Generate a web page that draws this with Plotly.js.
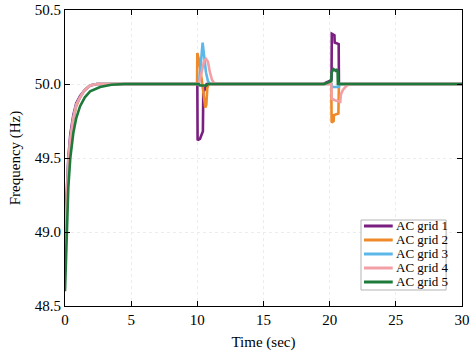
<!DOCTYPE html>
<html>
<head>
<meta charset="utf-8">
<script src="https://cdn.plot.ly/plotly-3.0.1.min.js"></script>
<style>html,body{margin:0;padding:0;background:#fff;}#chart{width:474px;height:356px;}</style>
</head>
<body>
<div id="chart"></div>
<script>
// AC grid 1 (purple)
const t1 = [0,0.1,0.25,0.4,0.63,0.85,1.14,1.5,1.9,2.4,10.0,10.02,10.2,10.42,10.45,10.55,10.7,11.0,19.5,20.0,20.14,20.16,20.36,20.38,20.68,20.7,21.0,30];
const f1 = [48.85,49.2,49.5,49.66,49.79,49.87,49.92,49.96,49.99,50.0,50.0,49.62,49.63,49.68,49.96,49.96,50.0,50.0,50.0,50.02,50.03,50.34,50.33,50.28,50.27,50.0,50.0,50.0];
// AC grid 2 (orange)
const t2 = [0,0.1,0.25,0.4,0.63,0.85,1.14,1.5,1.9,2.4,9.98,10.0,10.15,10.3,10.45,10.6,10.68,10.75,10.85,20.12,20.15,20.3,20.32,20.66,20.7,21.0,30];
const f2 = [48.8,49.12,49.45,49.61,49.76,49.85,49.91,49.96,49.99,50.0,50.0,50.21,50.15,50.05,49.93,49.84,49.86,49.97,50.0,50.0,49.74,49.75,49.79,49.8,50.0,50.0,50.0];
// AC grid 3 (blue)
const t3 = [0,0.1,0.25,0.4,0.63,0.85,1.14,1.5,1.9,2.4,10.12,10.25,10.4,10.5,10.65,10.8,10.95,20.14,20.16,20.7,20.74,30];
const f3 = [48.85,49.15,49.47,49.62,49.77,49.86,49.91,49.96,49.99,50.0,50.0,50.12,50.28,50.2,50.08,50.02,50.0,50.0,49.98,49.98,50.0,50.0];
// AC grid 4 (pink)
const t4 = [0,0.1,0.15,0.25,0.4,0.63,0.85,1.14,1.5,1.9,2.4,10.1,10.3,10.5,10.65,10.8,10.95,11.1,11.3,20.12,20.16,20.4,20.8,20.85,21.0,21.3,21.6,30];
const f4 = [48.9,49.15,49.26,49.47,49.63,49.77,49.86,49.91,49.96,49.99,50.0,50.0,50.07,50.15,50.17,50.15,50.08,50.03,50.0,50.0,49.9,49.89,49.88,49.93,49.96,49.99,50.0,50.0];
// AC grid 5 (green)
const t5 = [0,0.1,0.25,0.4,0.63,0.85,1.14,1.5,1.9,2.65,3.5,4.5,10.1,10.2,10.7,10.8,19.6,20.12,20.15,20.3,20.45,20.55,20.6,20.62,21.0,30];
const f5 = [48.6,48.95,49.3,49.5,49.67,49.77,49.85,49.91,49.95,49.98,49.995,50.0,50.0,49.99,49.99,50.0,50.0,50.02,50.08,50.1,50.09,50.1,50.08,50.0,50.0,50.0];
const names = ["AC grid 1","AC grid 2","AC grid 3","AC grid 4","AC grid 5"];
const colors = ["#7a1e80","#ee8a2a","#5cb8e8","#f2a0a6","#1e7a3a"];
const xs = [t1,t2,t3,t4,t5], ys = [f1,f2,f3,f4,f5];
const xTicks = [0,5,10,15,20,25,30];
const yTicks = [48.5,49.0,49.5,50.0,50.5];
const yTickText = ["48.5","49.0","49.5","50.0","50.5"];

const traces = names.map((n,i)=>({
  x: xs[i], y: ys[i], name: n, type: "scatter", mode: "lines", showlegend: false,
  line: {color: colors[i], width: 2.6}
}));

const fam = "Liberation Serif, Times New Roman, serif";
const tickFont = {family: fam, size: 15, color: "#000"};
const titleFont = {family: fam, size: 15, color: "#000"};

// legend drawn in plot-area (paper) coordinates
const legRowY = [0.2703, 0.2230, 0.1757, 0.1284, 0.0811];
const shapes = [{type: "rect", xref: "paper", yref: "paper", x0: 0.7456, x1: 0.960, y0: 0.0541, y1: 0.2905,
  line: {color: "#b4b4b4", width: 1}, fillcolor: "#fff", layer: "above"}];
const annotations = [];
names.forEach((n,i)=>{
  shapes.push({type: "line", xref: "paper", yref: "paper", x0: 0.7532, x1: 0.8255, y0: legRowY[i], y1: legRowY[i],
    line: {color: colors[i], width: 3}, layer: "above"});
  annotations.push({xref: "paper", yref: "paper", x: 0.8275, y: legRowY[i], xanchor: "left", yanchor: "middle",
    text: n, showarrow: false, font: {family: fam, size: 13, color: "#000"}});
});

const layout = {
  width: 474, height: 356,
  margin: {l: 65, r: 12, t: 10, b: 50},
  paper_bgcolor: "#fff", plot_bgcolor: "#fff",
  font: tickFont,
  showlegend: false,
  shapes: shapes, annotations: annotations,
  xaxis: {range: [0,30], tickvals: xTicks, ticks: "inside", ticklen: 5, tickcolor: "#000", tickfont: tickFont,
    showline: true, linecolor: "#000", linewidth: 1, mirror: "ticks",
    showgrid: true, gridcolor: "#ececec", griddash: "dot", zeroline: false,
    title: {text: "Time (sec)", font: titleFont, standoff: 9}},
  yaxis: {range: [48.5,50.5], tickvals: yTicks, ticktext: yTickText, ticks: "inside", ticklen: 5, tickcolor: "#000", tickfont: tickFont,
    showline: true, linecolor: "#000", linewidth: 1, mirror: "ticks",
    showgrid: true, gridcolor: "#ececec", griddash: "dot", zeroline: false,
    title: {text: "Frequency (Hz)", font: titleFont, standoff: 10}}
};
Plotly.newPlot("chart", traces, layout, {displayModeBar: false, staticPlot: true});
</script>
</body>
</html>
